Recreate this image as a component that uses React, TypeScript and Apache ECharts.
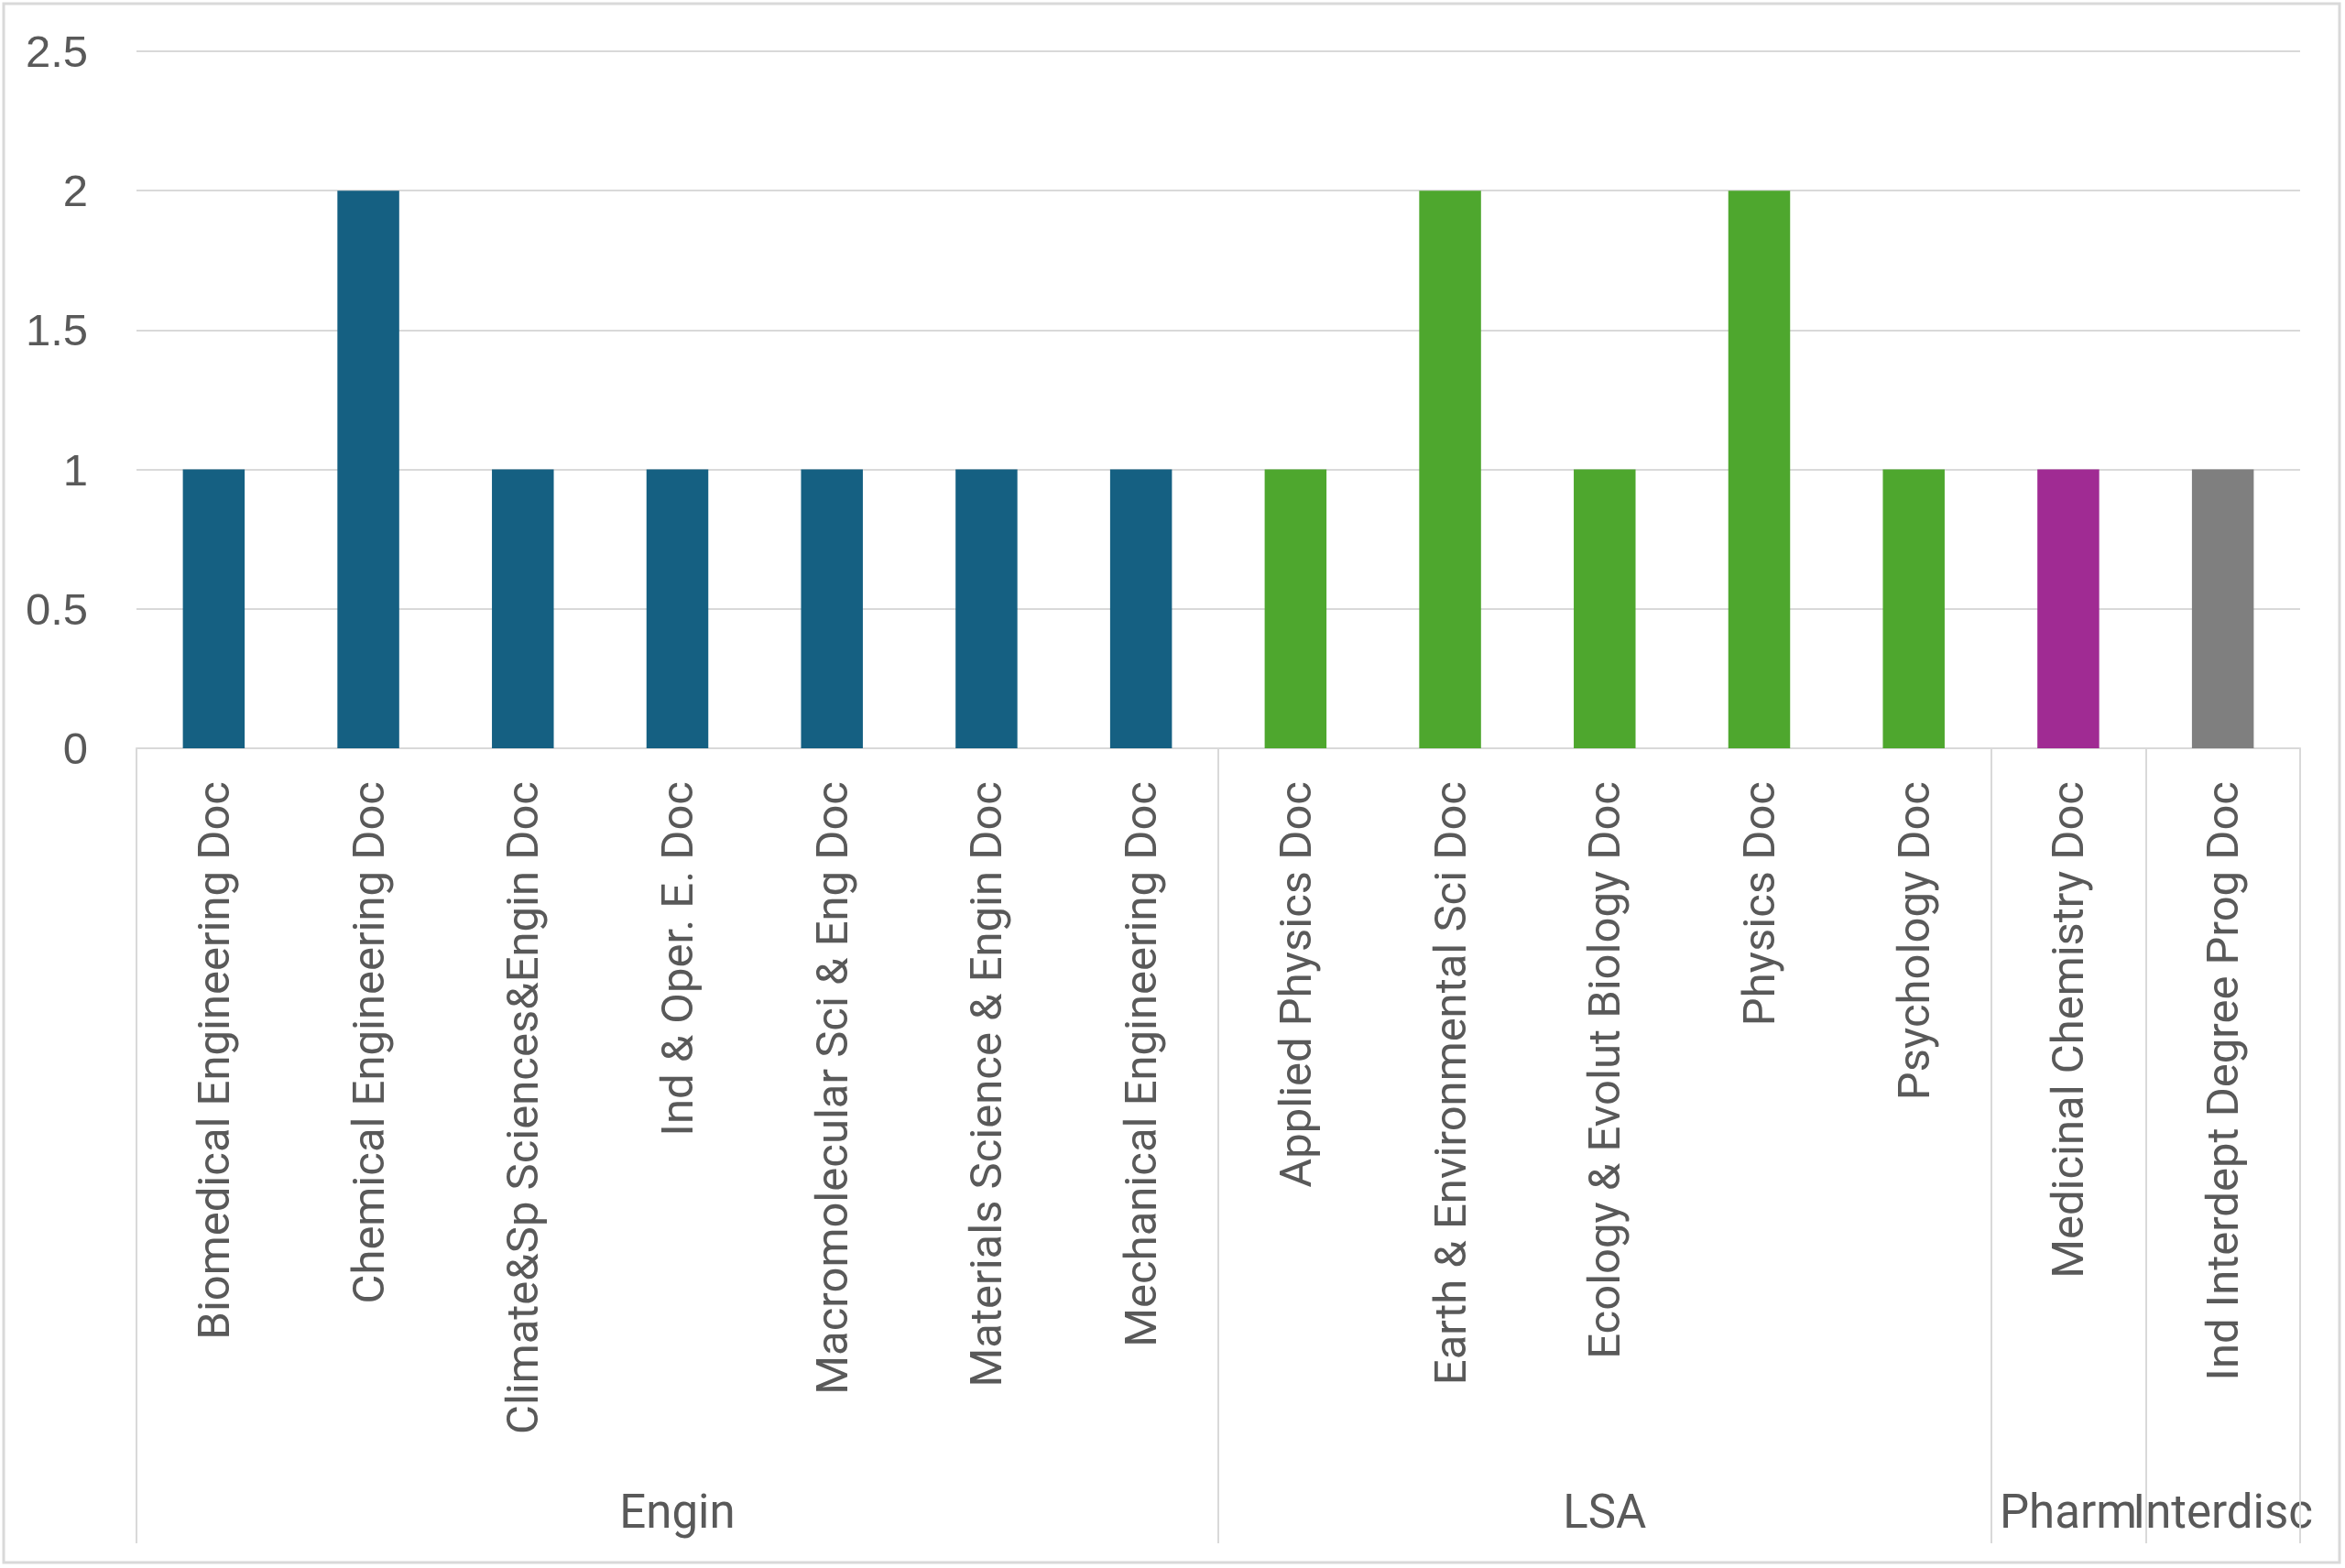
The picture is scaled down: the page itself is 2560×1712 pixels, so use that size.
import React, { useEffect, useRef } from "react";
import * as echarts from "echarts";

const categories = [
  "Biomedical Engineering Doc",
  "Chemical Engineering Doc",
  "Climate&Sp Sciences&Engin Doc",
  "Ind & Oper. E. Doc",
  "Macromolecular Sci & Eng Doc",
  "Materials Science & Engin Doc",
  "Mechanical Engineering Doc",
  "Applied Physics Doc",
  "Earth & Environmental Sci Doc",
  "Ecology & Evolut Biology Doc",
  "Physics Doc",
  "Psychology Doc",
  "Medicinal Chemistry Doc",
  "Ind Interdept Degree Prog Doc",
];

const groups = [
  "Engin", "Engin", "Engin", "Engin", "Engin", "Engin", "Engin",
  "LSA", "LSA", "LSA", "LSA", "LSA",
  "Pharm",
  "Interdisc",
];

const values = [1, 2, 1, 1, 1, 1, 1, 1, 2, 1, 2, 1, 1, 1];

const groupColors: Record<string, string> = {
  Engin: "#156082",
  LSA: "#4EA72E",
  Pharm: "#A02B93",
  Interdisc: "#7F7F7F",
};

const yMin = 0;
const yMax = 2.5;
const yInterval = 0.5;

// start / end category index of each group run
function groupRuns(): { name: string; start: number; end: number }[] {
  const runs: { name: string; start: number; end: number }[] = [];
  let start = 0;
  for (let i = 1; i <= groups.length; i++) {
    if (i === groups.length || groups[i] !== groups[start]) {
      runs.push({ name: groups[start], start, end: i - 1 });
      start = i;
    }
  }
  return runs;
}

export default function App() {
  const ref = useRef<HTMLDivElement>(null);

  useEffect(() => {
    document.body.style.margin = "0";
    if (!ref.current) return;
    const chart = echarts.init(ref.current, undefined, { renderer: "svg" });
    const textColor = "#595959";
    const lineColor = "#D9D9D9";
    const catFont = "Roboto, 'Liberation Sans', sans-serif";

    chart.setOption({
      animation: false,
      backgroundColor: "#ffffff",
      grid: {
        left: 149,
        right: 49,
        top: 56,
        bottom: 895,
        containLabel: false,
        outerBoundsMode: "none",
      },
      xAxis: [
        {
          type: "category",
          data: categories,
          position: "bottom",
          axisLine: { show: true, lineStyle: { color: lineColor, width: 2 } },
          axisTick: {
            show: true,
            length: 868,
            interval: (i: number) => i === 0 || groups[i] !== groups[i - 1],
            lineStyle: { color: lineColor, width: 2 },
          },
          axisLabel: {
            interval: 0,
            rotate: 90,
            margin: 36,
            color: textColor,
            fontFamily: catFont,
            fontSize: 49,
          },
          splitLine: { show: false },
        },
      ],
      yAxis: {
        type: "value",
        min: yMin,
        max: yMax,
        interval: yInterval,
        axisLine: { show: false },
        axisTick: { show: false },
        axisLabel: {
          margin: 53,
          color: textColor,
          fontFamily: "'Liberation Sans', Arial, sans-serif",
          fontSize: 49,
        },
        splitLine: { show: true, lineStyle: { color: lineColor, width: 2 } },
      },
      series: [
        {
          type: "bar",
          xAxisIndex: 0,
          barCategoryGap: "60%",
          data: values.map((v, i) => ({
            value: v,
            itemStyle: { color: groupColors[groups[i]] },
          })),
        },
      ],
    });

    // group labels centred under each group's run of categories, via the axis scale
    const groupTexts = groupRuns().map((run) => {
      const x0 = chart.convertToPixel({ xAxisIndex: 0 }, run.start) as number;
      const x1 = chart.convertToPixel({ xAxisIndex: 0 }, run.end) as number;
      return {
        type: "text",
        x: (x0 + x1) / 2,
        y: 1650,
        silent: true,
        style: {
          text: run.name,
          fill: textColor,
          font: `51px ${catFont}`,
          align: "center",
          verticalAlign: "middle",
        },
      };
    });

    chart.setOption({
      graphic: [
        {
          type: "rect",
          shape: { x: 4, y: 4, width: 2550, height: 1702 },
          style: { fill: "none", stroke: lineColor, lineWidth: 3 },
          silent: true,
        },
        ...groupTexts,
      ],
    });

    return () => chart.dispose();
  }, []);

  return <div ref={ref} style={{ width: 2560, height: 1712 }} />;
}
